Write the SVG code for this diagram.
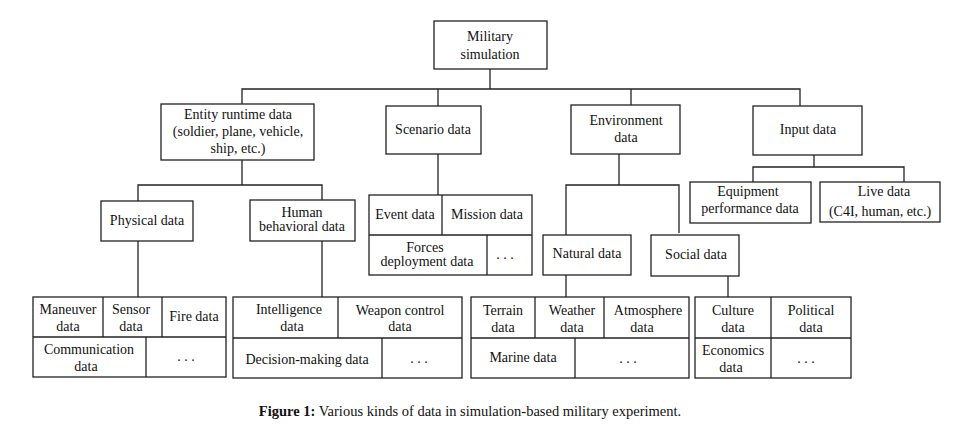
<svg xmlns="http://www.w3.org/2000/svg" width="970" height="442" viewBox="0 0 970 442">
<style>
rect{fill:#fff;stroke:#222;stroke-width:1.3}
.l line,.l path{stroke:#222;stroke-width:1.3;fill:none}
text{font-family:"Liberation Serif",serif;font-size:14px;fill:#111;text-anchor:middle}
.cap{font-size:14.5px}
</style>
<rect x="0" y="0" width="970" height="442" style="stroke:none"/>
<g class="l" id="connectors">
<line x1="490" y1="69" x2="490" y2="89"/>
<path d="M242 104V89H800V106"/>
<line x1="438" y1="89" x2="438" y2="106"/>
<line x1="631" y1="89" x2="631" y2="105"/>
<path d="M242 160V185"/>
<path d="M138 201V185H322V200"/>
<line x1="138" y1="241" x2="138" y2="297"/>
<line x1="322" y1="241" x2="322" y2="297"/>
<line x1="438" y1="154" x2="438" y2="195"/>
<line x1="619" y1="154" x2="619" y2="185"/>
<path d="M566 235V185H679V233"/>
<line x1="566" y1="275" x2="566" y2="297"/>
<line x1="728" y1="276" x2="728" y2="297"/>
<path d="M814 155V167"/>
<path d="M753 182V167H904V182"/>
</g>
<g id="military"><rect x="434" y="21" width="113" height="48"/><text x="490" y="41">Military</text><text x="490" y="59">simulation</text></g>
<g id="entity"><rect x="161" y="104" width="153" height="56"/><text x="238" y="119">Entity runtime data</text><text x="238" y="136">(soldier, plane, vehicle,</text><text x="238" y="153">ship, etc.)</text></g>
<g id="scenario"><rect x="386" y="106" width="95" height="48"/><text x="433" y="134">Scenario data</text></g>
<g id="environment"><rect x="571" y="105" width="109" height="49"/><text x="626" y="125">Environment</text><text x="626" y="142">data</text></g>
<g id="input"><rect x="753" y="106" width="109" height="49"/><text x="808" y="134">Input data</text></g>
<g id="physical"><rect x="101" y="201" width="92" height="40"/><text x="147" y="225">Physical data</text></g>
<g id="human"><rect x="250" y="200" width="105" height="41"/><text x="302" y="217">Human</text><text x="302" y="231">behavioral data</text></g>
<g id="equipment"><rect x="690" y="182" width="121" height="41"/><text x="748" y="196">Equipment</text><text x="750" y="213">performance data</text></g>
<g id="live"><rect x="820" y="182" width="120" height="40"/><text x="884" y="196">Live data</text><text x="880" y="216">(C4I, human, etc.)</text></g>
<g id="natural"><rect x="543" y="235" width="88" height="40"/><text x="587" y="258">Natural data</text></g>
<g id="social"><rect x="651" y="235" width="88" height="41"/><text x="696" y="259">Social data</text></g>
<g id="scenario-table"><rect x="369" y="195" width="163" height="80"/><line x1="369" y1="235" x2="532" y2="235" stroke="#222" stroke-width="1.3"/><line x1="442" y1="195" x2="442" y2="235" stroke="#222" stroke-width="1.3"/><line x1="487" y1="235" x2="487" y2="275" stroke="#222" stroke-width="1.3"/>
<text x="405" y="219">Event data</text><text x="487" y="219">Mission data</text><text x="425" y="252">Forces</text><text x="427" y="266">deployment data</text><text x="505" y="259">. . .</text></g>
<g id="physical-table"><rect x="33" y="297" width="193" height="80"/><line x1="33" y1="337" x2="226" y2="337" stroke="#222" stroke-width="1.3"/><line x1="103" y1="297" x2="103" y2="337" stroke="#222" stroke-width="1.3"/><line x1="162" y1="297" x2="162" y2="337" stroke="#222" stroke-width="1.3"/><line x1="146" y1="337" x2="146" y2="377" stroke="#222" stroke-width="1.3"/>
<text x="68" y="314">Maneuver</text><text x="68" y="331">data</text><text x="131" y="314">Sensor</text><text x="131" y="331">data</text><text x="194" y="321">Fire data</text><text x="89" y="354">Communication</text><text x="86" y="371">data</text><text x="186" y="361">. . .</text></g>
<g id="human-table"><rect x="233" y="297" width="229" height="81"/><line x1="233" y1="338" x2="462" y2="338" stroke="#222" stroke-width="1.3"/><line x1="338" y1="297" x2="338" y2="338" stroke="#222" stroke-width="1.3"/><line x1="382" y1="338" x2="382" y2="378" stroke="#222" stroke-width="1.3"/>
<text x="289" y="314">Intelligence</text><text x="292" y="331">data</text><text x="400" y="315">Weapon control</text><text x="400" y="331">data</text><text x="307" y="364">Decision-making data</text><text x="419" y="363">. . .</text></g>
<g id="natural-table"><rect x="471" y="297" width="218" height="81"/><line x1="471" y1="338" x2="689" y2="338" stroke="#222" stroke-width="1.3"/><line x1="535" y1="297" x2="535" y2="338" stroke="#222" stroke-width="1.3"/><line x1="604" y1="297" x2="604" y2="338" stroke="#222" stroke-width="1.3"/><line x1="575" y1="338" x2="575" y2="378" stroke="#222" stroke-width="1.3"/>
<text x="503" y="315">Terrain</text><text x="503" y="332">data</text><text x="572" y="315">Weather</text><text x="572" y="332">data</text><text x="648" y="315">Atmosphere</text><text x="642" y="332">data</text><text x="523" y="362">Marine data</text><text x="628" y="363">. . .</text></g>
<g id="social-table"><rect x="695" y="297" width="156" height="81"/><line x1="695" y1="338" x2="851" y2="338" stroke="#222" stroke-width="1.3"/><line x1="771" y1="297" x2="771" y2="378" stroke="#222" stroke-width="1.3"/>
<text x="733" y="315">Culture</text><text x="733" y="332">data</text><text x="811" y="315">Political</text><text x="811" y="332">data</text><text x="733" y="355">Economics</text><text x="731" y="372">data</text><text x="806" y="363">. . .</text></g>
<text class="cap" x="470" y="416"><tspan font-weight="bold">Figure 1:</tspan> Various kinds of data in simulation-based military experiment.</text>
</svg>
